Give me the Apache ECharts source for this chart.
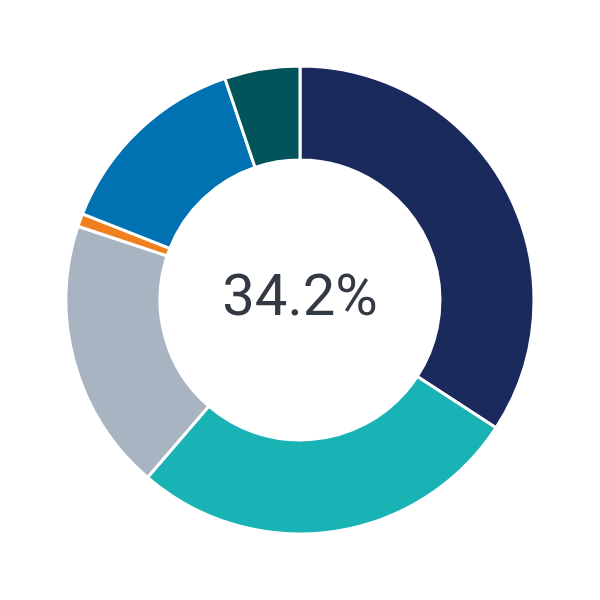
<!DOCTYPE html>
<html>
<head>
<meta charset="utf-8">
<script src="https://cdn.jsdelivr.net/npm/echarts@6/dist/echarts.min.js"></script>
<style>
html,body{margin:0;padding:0;background:#fff;}
#chart{width:600px;height:600px;}
</style>
</head>
<body>
<div id="chart"></div>
<script>
// slice data, clockwise from top
var names = ['A', 'B', 'C', 'D', 'E', 'F'];
var values = [34.2, 27.1, 18.8, 0.9, 13.8, 5.2];
var colors = ['#1b2a5c', '#1ab3b5', '#a9b4c2', '#f07f1e', '#0072b2', '#00545a'];
var centerLabel = '34.2%';

var chart = echarts.init(document.getElementById('chart'));
var data = [];
for (var i = 0; i < values.length; i++) {
	data.push({name: names[i], value: values[i], itemStyle: {color: colors[i]}});
}
chart.setOption({
	animation: false,
	title: {
		text: centerLabel,
		left: 'center',
		top: 'middle',
		textStyle: {
			fontFamily: 'Roboto',
			fontWeight: 'normal',
			fontSize: 58,
			color: '#343a43'
		}
	},
	series: [
		{
			type: 'pie',
			center: ['50%', '50%'],
			radius: [140, 234],
			startAngle: 90,
			clockwise: true,
			label: {show: false},
			labelLine: {show: false},
			emphasis: {disabled: true},
			itemStyle: {borderColor: '#fff', borderWidth: 3},
			data: data
		}
	]
});
</script>
</body>
</html>
